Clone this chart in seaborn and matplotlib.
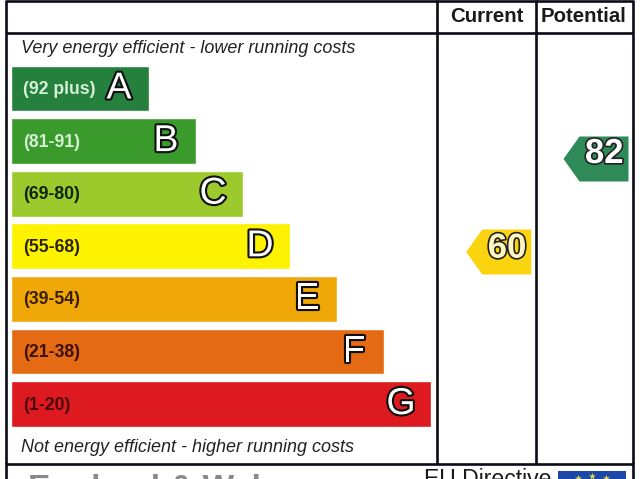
import matplotlib
matplotlib.use("Agg")
import matplotlib.pyplot as plt
import matplotlib.patheffects as pe
from matplotlib.path import Path
import pandas as pd
import seaborn as sns

sns.set_theme(style="white")
plt.rcParams["font.family"] = ["Liberation Sans", "DejaVu Sans"]

bands = ["A", "B", "C", "D", "E", "F", "G"]
ranges = ["(92 plus)", "(81-91)", "(69-80)", "(55-68)", "(39-54)", "(21-38)", "(1-20)"]
bar_lengths = [138, 185, 232, 279, 326, 373, 420]
band_colors = ["#24803c", "#3a9a2c", "#9cc92c", "#fdf200", "#f0a708", "#e56a14", "#dc1a1f"]
range_colors = ["#d5f0d5", "#d5f0d5", "#10240c", "#2a2400", "#3a1e00", "#3a1000", "#4a0808"]
rating_columns = ["Current", "Potential"]
rating_scores = [60, 82]
rating_colors = ["#fad40f", "#2e8b57"]

W, H = 640, 479
fig = plt.figure(figsize=(W / 100, H / 100), dpi=100, facecolor="white")


def px_axes(x0, y0, x1, y1, **kw):
    return fig.add_axes([x0 / W, 1 - y1 / H, (x1 - x0) / W, (y1 - y0) / H], **kw)


# Frame and table grid, in pixel coordinates
bg = px_axes(0, 0, W, H)
bg.set_xlim(0, W)
bg.set_ylim(H, 0)
bg.axis("off")
frame = "#0b0b14"
for (x0, y0, x1, y1) in [(5.7, 1, 633, 1), (5.7, 33, 633, 33), (5.7, 463.5, 633, 463.5),
                         (5.7, 0, 5.7, 479), (437.2, 0, 437.2, 463.5), (536, 0, 536, 463.5),
                         (633.2, 0, 633.2, 479)]:
    bg.plot([x0, x1], [y0, y1], color=frame, lw=1.9, solid_capstyle="butt")

bg.text(486.5, 16.5, "Current", ha="center", va="center", fontsize=14.7, fontweight="bold", color="#1a1a1a")
bg.text(583.5, 16.5, "Potential", ha="center", va="center", fontsize=14.7, fontweight="bold", color="#1a1a1a")
bg.text(21, 48, "Very energy efficient - lower running costs", ha="left", va="center",
        fontsize=13, style="italic", color="#222222")
bg.text(21, 447, "Not energy efficient - higher running costs", ha="left", va="center",
        fontsize=13, style="italic", color="#222222")
bg.text(28, 474, "England & Wales", ha="left", va="top", fontsize=24, fontweight="bold", color="#8a8a8a")
bg.text(424, 467.5, "EU Directive", ha="left", va="top", fontsize=16.6, color="#1a1a1a")
bg.fill_between([558, 626], 471, 479, color="#1c47a8", lw=0)
bg.scatter([578, 592, 606], [478, 475.5, 478], marker="*", s=28, color="#e8d84a", lw=0)

# Bands: categorical y axis, 52.6 px per band, first centre at 88.5 px
top = 88.5 - 26.3
bot = top + 7 * 52.6
ax = px_axes(11, top, 640, bot)
ax.patch.set_alpha(0)
df = pd.DataFrame({"band": bands, "length": bar_lengths})
sns.barplot(data=df, x="length", y="band", hue="band", palette=band_colors, order=bands,
            orient="h", width=0.87, dodge=False, legend=False, saturation=1, ax=ax)
ax.set_xlim(0, 629)
ax.set_ylim(6.5, -0.5)
ax.axis("off")
outline = [pe.withStroke(linewidth=3.0, foreground="#101010")]
for i, (b, r, n, c) in enumerate(zip(bands, ranges, bar_lengths, range_colors)):
    ax.text(12, i + 0.02, r, ha="left", va="center", fontsize=12.7, fontweight="bold", color=c)
    ax.text(n - 30, i, b, ha="center", va="center", fontsize=27, color="white", path_effects=outline)

# Rating pointers: y axis in score units (252 px at 60, 159 px at 82)
per_score = (252 - 159) / 22
rax = px_axes(437, 33, 636, 463)
rax.patch.set_alpha(0)
rdf = pd.DataFrame({"column": rating_columns, "score": rating_scores})
pointer = Path([(-33, 0), (-17, -22.5), (32, -22.5), (32, 22.5), (-17, 22.5), (-33, 0)], closed=True)
sns.scatterplot(data=rdf, x="column", y="score", hue="column", palette=rating_colors,
                marker=pointer, s=2258, linewidth=0, legend=False, ax=rax)
rax.set_xlim(-63 / 98.5, 1 + (636 - 596) / 98.5)
rax.set_ylim(60 - (463 - 252) / per_score, 60 + (252 - 33) / per_score)
rax.axis("off")
label_out = [pe.withStroke(linewidth=2.4, foreground="#222222")]
for i, s in enumerate(rating_scores):
    rax.text(i + 0.08, s + (1.3 if i else 0.9), str(s), ha="center", va="center", fontsize=25, fontweight="bold",
             color="white" if i else "#fdf6c0", path_effects=label_out)

fig.savefig("out.png", dpi=100)
